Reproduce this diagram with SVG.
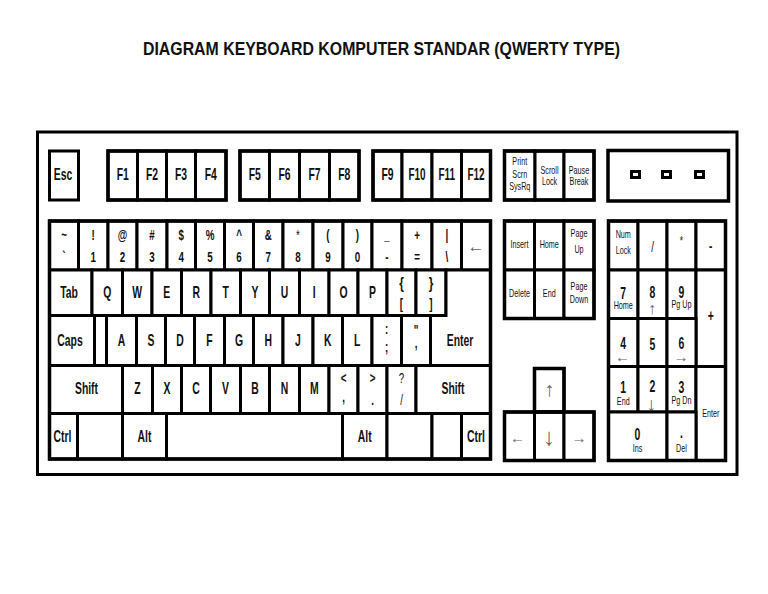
<svg xmlns="http://www.w3.org/2000/svg" width="768" height="594" viewBox="0 0 768 594">
<style>
.key{fill:#fff;stroke:#000;stroke-width:3}
.grp{fill:none;stroke:#000;stroke-width:3.5}
.frame{fill:#fff;stroke:#000;stroke-width:3}
.led{fill:#fff;stroke:#000;stroke-width:3}
text{font-family:"Liberation Sans",Arial,sans-serif;text-anchor:middle;fill:#111}
.b{font-weight:bold;font-size:16px}
.n{font-weight:bold;font-size:14px}
.s{font-size:10px}
.a{fill:#666;dominant-baseline:central}
.title{font-weight:bold;font-size:18px}
</style>
<rect width="768" height="594" fill="#fff"/>
<text class="title" x="381.5" y="55" textLength="477" lengthAdjust="spacingAndGlyphs">DIAGRAM KEYBOARD KOMPUTER STANDAR (QWERTY TYPE)</text>
<rect id="frame" class="frame" x="37.5" y="132" width="699.5" height="342.5"/>

<g id="function-row">
<g id="k-esc"><rect class="key" x="49.5" y="151" width="29" height="49"/><text class="b" transform="translate(63,180) scale(.65,1)">Esc</text></g>
<g id="k-f1"><rect class="key" x="108" y="151" width="29.5" height="49"/><text class="b" transform="translate(122.75,180) scale(.65,1)">F1</text></g>
<g id="k-f2"><rect class="key" x="137.5" y="151" width="29" height="49"/><text class="b" transform="translate(152,180) scale(.65,1)">F2</text></g>
<g id="k-f3"><rect class="key" x="166.5" y="151" width="29" height="49"/><text class="b" transform="translate(181,180) scale(.65,1)">F3</text></g>
<g id="k-f4"><rect class="key" x="195.5" y="151" width="30.5" height="49"/><text class="b" transform="translate(210.75,180) scale(.65,1)">F4</text></g>
<rect class="grp" x="108" y="151" width="118" height="49"/>
<g id="k-f5"><rect class="key" x="240" y="151" width="29.5" height="49"/><text class="b" transform="translate(254.75,180) scale(.65,1)">F5</text></g>
<g id="k-f6"><rect class="key" x="269.5" y="151" width="30" height="49"/><text class="b" transform="translate(284.5,180) scale(.65,1)">F6</text></g>
<g id="k-f7"><rect class="key" x="299.5" y="151" width="30" height="49"/><text class="b" transform="translate(314.5,180) scale(.65,1)">F7</text></g>
<g id="k-f8"><rect class="key" x="329.5" y="151" width="29.5" height="49"/><text class="b" transform="translate(344.25,180) scale(.65,1)">F8</text></g>
<rect class="grp" x="240" y="151" width="119" height="49"/>
<g id="k-f9"><rect class="key" x="373" y="151" width="29" height="49"/><text class="b" transform="translate(387.5,180) scale(.65,1)">F9</text></g>
<g id="k-f10"><rect class="key" x="402" y="151" width="30" height="49"/><text class="b" transform="translate(417,180) scale(.62,1)">F10</text></g>
<g id="k-f11"><rect class="key" x="432" y="151" width="29.5" height="49"/><text class="b" transform="translate(446.75,180) scale(.62,1)">F11</text></g>
<g id="k-f12"><rect class="key" x="461.5" y="151" width="29" height="49"/><text class="b" transform="translate(476,180) scale(.62,1)">F12</text></g>
<rect class="grp" x="373" y="151" width="117.5" height="49"/>
<g id="k-print"><rect class="key" x="504.5" y="151" width="30.5" height="49"/><text class="s" transform="translate(519.75,165) scale(.72,1)">Print</text><text class="s" transform="translate(519.75,178) scale(.72,1)">Scrn</text><text class="s" transform="translate(519.75,190) scale(.72,1)">SysRq</text></g>
<g id="k-scroll"><rect class="key" x="535" y="151" width="29" height="49"/><text class="s" transform="translate(549.5,174) scale(.72,1)">Scroll</text><text class="s" transform="translate(549.5,185) scale(.72,1)">Lock</text></g>
<g id="k-pause"><rect class="key" x="564" y="151" width="30" height="49"/><text class="s" transform="translate(579,174) scale(.72,1)">Pause</text><text class="s" transform="translate(579,185) scale(.72,1)">Break</text></g>
<rect class="grp" x="504.5" y="151" width="89.5" height="49"/>
<g id="indicators"><rect class="grp" x="608" y="150.5" width="120.5" height="50.5" style="fill:#fff"/><rect class="led" x="631.5" y="171.5" width="8" height="6"/><rect class="led" x="662.5" y="171.5" width="8" height="6"/><rect class="led" x="695.5" y="171.5" width="8" height="6"/></g>
</g>

<g id="number-row">
<g id="k-tilde"><rect class="key" x="49.5" y="221" width="29" height="49"/><text class="n" transform="translate(64,240) scale(.7,1)">~</text><text class="n" transform="translate(64,262) scale(.7,1)">`</text></g>
<g id="k-1"><rect class="key" x="78.5" y="221" width="29.5" height="49"/><text class="n" transform="translate(93.25,240) scale(.7,1)">!</text><text class="n" transform="translate(93.25,262) scale(.7,1)">1</text></g>
<g id="k-2"><rect class="key" x="108" y="221" width="29" height="49"/><text class="n" transform="translate(122.5,240) scale(.7,1)">@</text><text class="n" transform="translate(122.5,262) scale(.7,1)">2</text></g>
<g id="k-3"><rect class="key" x="137" y="221" width="30" height="49"/><text class="n" transform="translate(152,240) scale(.7,1)">#</text><text class="n" transform="translate(152,262) scale(.7,1)">3</text></g>
<g id="k-4"><rect class="key" x="167" y="221" width="28.5" height="49"/><text class="n" transform="translate(181.25,240) scale(.7,1)">$</text><text class="n" transform="translate(181.25,262) scale(.7,1)">4</text></g>
<g id="k-5"><rect class="key" x="195.5" y="221" width="29" height="49"/><text class="n" transform="translate(210,240) scale(.7,1)">%</text><text class="n" transform="translate(210,262) scale(.7,1)">5</text></g>
<g id="k-6"><rect class="key" x="224.5" y="221" width="29" height="49"/><text class="n" transform="translate(239,240) scale(.7,1)">^</text><text class="n" transform="translate(239,262) scale(.7,1)">6</text></g>
<g id="k-7"><rect class="key" x="253.5" y="221" width="29.5" height="49"/><text class="n" transform="translate(268.25,240) scale(.7,1)">&amp;</text><text class="n" transform="translate(268.25,262) scale(.7,1)">7</text></g>
<g id="k-8"><rect class="key" x="283" y="221" width="30" height="49"/><text class="n" transform="translate(298,240) scale(.7,1)" style="font-weight:normal">*</text><text class="n" transform="translate(298,262) scale(.7,1)">8</text></g>
<g id="k-9"><rect class="key" x="313" y="221" width="30" height="49"/><text class="n" transform="translate(328,240) scale(.7,1)">(</text><text class="n" transform="translate(328,262) scale(.7,1)">9</text></g>
<g id="k-0"><rect class="key" x="343" y="221" width="29" height="49"/><text class="n" transform="translate(357.5,240) scale(.7,1)">)</text><text class="n" transform="translate(357.5,262) scale(.7,1)">0</text></g>
<g id="k-minus"><rect class="key" x="372" y="221" width="30" height="49"/><text class="n" transform="translate(387,240) scale(.7,1)">_</text><text class="n" transform="translate(387,262) scale(.7,1)">-</text></g>
<g id="k-equal"><rect class="key" x="402" y="221" width="30" height="49"/><text class="n" transform="translate(417,240) scale(.7,1)">+</text><text class="n" transform="translate(417,262) scale(.7,1)">=</text></g>
<g id="k-backslash"><rect class="key" x="432" y="221" width="29.5" height="49"/><text class="n" transform="translate(446.75,240) scale(.7,1)">|</text><text class="n" transform="translate(446.75,262) scale(.7,1)">\</text></g>
<g id="k-backspace"><rect class="key" x="461.5" y="221" width="29" height="49"/><text class="a" x="476" y="246" style="font-size:17px">←</text></g>
</g>

<g id="tab-row">
<g id="k-tab"><rect class="key" x="49.5" y="270" width="42.5" height="45.5"/><text class="b" transform="translate(69,298) scale(.65,1)">Tab</text></g>
<g id="k-q"><rect class="key" x="92" y="270" width="30.5" height="45.5"/><text class="b" transform="translate(107.25,298) scale(.65,1)">Q</text></g>
<g id="k-w"><rect class="key" x="122.5" y="270" width="29.5" height="45.5"/><text class="b" transform="translate(137.25,298) scale(.65,1)">W</text></g>
<g id="k-e"><rect class="key" x="152" y="270" width="29.5" height="45.5"/><text class="b" transform="translate(166.75,298) scale(.65,1)">E</text></g>
<g id="k-r"><rect class="key" x="181.5" y="270" width="29.5" height="45.5"/><text class="b" transform="translate(196.25,298) scale(.65,1)">R</text></g>
<g id="k-t"><rect class="key" x="211" y="270" width="29.5" height="45.5"/><text class="b" transform="translate(225.75,298) scale(.65,1)">T</text></g>
<g id="k-y"><rect class="key" x="240.5" y="270" width="29" height="45.5"/><text class="b" transform="translate(255,298) scale(.65,1)">Y</text></g>
<g id="k-u"><rect class="key" x="269.5" y="270" width="30" height="45.5"/><text class="b" transform="translate(284.5,298) scale(.65,1)">U</text></g>
<g id="k-i"><rect class="key" x="299.5" y="270" width="29.5" height="45.5"/><text class="b" transform="translate(314.25,298) scale(.65,1)">I</text></g>
<g id="k-o"><rect class="key" x="329" y="270" width="29" height="45.5"/><text class="b" transform="translate(343.5,298) scale(.65,1)">O</text></g>
<g id="k-p"><rect class="key" x="358" y="270" width="29" height="45.5"/><text class="b" transform="translate(372.5,298) scale(.65,1)">P</text></g>
<g id="k-lbracket"><rect class="key" x="387" y="270" width="29" height="45.5"/><text class="n" transform="translate(401.5,288.5) scale(.7,1)" style="font-size:17px">{</text><text class="n" transform="translate(401.5,309) scale(.7,1)">[</text></g>
<g id="k-rbracket"><rect class="key" x="416" y="270" width="30" height="45.5"/><text class="n" transform="translate(431,288.5) scale(.7,1)" style="font-size:17px">}</text><text class="n" transform="translate(431,309) scale(.7,1)">]</text></g>
</g>

<g id="caps-row">
<g id="k-caps"><rect class="key" x="49.5" y="315.5" width="45" height="50"/><text class="b" transform="translate(70,346) scale(.65,1)">Caps</text></g>
<g id="k-blank-caps"><rect class="key" x="94.5" y="315.5" width="12" height="50"/></g>
<g id="k-a"><rect class="key" x="106.5" y="315.5" width="30" height="50"/><text class="b" transform="translate(121.5,346) scale(.65,1)">A</text></g>
<g id="k-s"><rect class="key" x="136.5" y="315.5" width="29" height="50"/><text class="b" transform="translate(151,346) scale(.65,1)">S</text></g>
<g id="k-d"><rect class="key" x="165.5" y="315.5" width="29" height="50"/><text class="b" transform="translate(180,346) scale(.65,1)">D</text></g>
<g id="k-f"><rect class="key" x="194.5" y="315.5" width="30" height="50"/><text class="b" transform="translate(209.5,346) scale(.65,1)">F</text></g>
<g id="k-g"><rect class="key" x="224.5" y="315.5" width="29" height="50"/><text class="b" transform="translate(239,346) scale(.65,1)">G</text></g>
<g id="k-h"><rect class="key" x="253.5" y="315.5" width="29.5" height="50"/><text class="b" transform="translate(268.25,346) scale(.65,1)">H</text></g>
<g id="k-j"><rect class="key" x="283" y="315.5" width="30" height="50"/><text class="b" transform="translate(298,346) scale(.65,1)">J</text></g>
<g id="k-k"><rect class="key" x="313" y="315.5" width="29.5" height="50"/><text class="b" transform="translate(327.75,346) scale(.65,1)">K</text></g>
<g id="k-l"><rect class="key" x="342.5" y="315.5" width="29.5" height="50"/><text class="b" transform="translate(357.25,346) scale(.65,1)">L</text></g>
<g id="k-semicolon"><rect class="key" x="372" y="315.5" width="29.5" height="50"/><text class="n" transform="translate(386.75,334) scale(.7,1)">:</text><text class="n" transform="translate(386.75,352) scale(.7,1)">;</text></g>
<g id="k-quote"><rect class="key" x="401.5" y="315.5" width="29" height="50"/><text class="n" transform="translate(416,335) scale(.7,1)">"</text><text class="n" transform="translate(416,348) scale(.7,1)">,</text></g>
<g id="k-enter"><path class="key" d="M446,270 H490.5 V365.5 H430.5 V315.5 H446 Z"/><text class="b" transform="translate(460,346) scale(.65,1)">Enter</text></g>
</g>

<g id="shift-row">
<g id="k-lshift"><rect class="key" x="49.5" y="365.5" width="73" height="48"/><text class="b" transform="translate(86.5,394) scale(.65,1)">Shift</text></g>
<g id="k-z"><rect class="key" x="122.5" y="365.5" width="30" height="48"/><text class="b" transform="translate(137.5,394) scale(.65,1)">Z</text></g>
<g id="k-x"><rect class="key" x="152.5" y="365.5" width="29" height="48"/><text class="b" transform="translate(167,394) scale(.65,1)">X</text></g>
<g id="k-c"><rect class="key" x="181.5" y="365.5" width="29" height="48"/><text class="b" transform="translate(196,394) scale(.65,1)">C</text></g>
<g id="k-v"><rect class="key" x="210.5" y="365.5" width="30" height="48"/><text class="b" transform="translate(225.5,394) scale(.65,1)">V</text></g>
<g id="k-b"><rect class="key" x="240.5" y="365.5" width="29" height="48"/><text class="b" transform="translate(255,394) scale(.65,1)">B</text></g>
<g id="k-n"><rect class="key" x="269.5" y="365.5" width="30" height="48"/><text class="b" transform="translate(284.5,394) scale(.65,1)">N</text></g>
<g id="k-m"><rect class="key" x="299.5" y="365.5" width="29.5" height="48"/><text class="b" transform="translate(314.25,394) scale(.65,1)">M</text></g>
<g id="k-comma"><rect class="key" x="329" y="365.5" width="29" height="48"/><text class="n" transform="translate(343.5,383) scale(.7,1)">&lt;</text><text class="n" transform="translate(343.5,402) scale(.7,1)">,</text></g>
<g id="k-period"><rect class="key" x="358" y="365.5" width="29" height="48"/><text class="n" transform="translate(372.5,383) scale(.7,1)">&gt;</text><text class="n" transform="translate(372.5,405) scale(.7,1)">.</text></g>
<g id="k-slash"><rect class="key" x="387" y="365.5" width="29" height="48"/><text class="n" transform="translate(401.5,383) scale(.7,1)" style="font-weight:normal">?</text><text class="n" transform="translate(401.5,405) scale(.7,1)" style="font-weight:normal">/</text></g>
<g id="k-rshift"><rect class="key" x="416" y="365.5" width="74.5" height="48"/><text class="b" transform="translate(453,394) scale(.65,1)">Shift</text></g>
</g>

<g id="ctrl-row">
<g id="k-lctrl"><rect class="key" x="49.5" y="413.5" width="28" height="45.5"/><text class="b" transform="translate(62.5,442) scale(.65,1)">Ctrl</text></g>
<g id="k-lwin"><rect class="key" x="77.5" y="413.5" width="45" height="45.5"/></g>
<g id="k-lalt"><rect class="key" x="122.5" y="413.5" width="44" height="45.5"/><text class="b" transform="translate(144.5,442) scale(.65,1)">Alt</text></g>
<g id="k-space"><rect class="key" x="166.5" y="413.5" width="176" height="45.5"/></g>
<g id="k-ralt"><rect class="key" x="342.5" y="413.5" width="44.5" height="45.5"/><text class="b" transform="translate(364.75,442) scale(.65,1)">Alt</text></g>
<g id="k-rwin"><rect class="key" x="387" y="413.5" width="45" height="45.5"/></g>
<g id="k-menu"><rect class="key" x="432" y="413.5" width="29.5" height="45.5"/></g>
<g id="k-rctrl"><rect class="key" x="461.5" y="413.5" width="29" height="45.5"/><text class="b" transform="translate(476,442) scale(.65,1)">Ctrl</text></g>
</g>
<rect class="grp" x="49.5" y="221" width="441" height="238"/>

<g id="nav-cluster">
<g id="k-insert"><rect class="key" x="504.5" y="221" width="30" height="49"/><text class="s" transform="translate(519.5,248) scale(.72,1)">Insert</text></g>
<g id="k-home"><rect class="key" x="534.5" y="221" width="29.5" height="49"/><text class="s" transform="translate(549.25,248) scale(.72,1)">Home</text></g>
<g id="k-pgup"><rect class="key" x="564" y="221" width="30" height="49"/><text class="s" transform="translate(579,237) scale(.72,1)">Page</text><text class="s" transform="translate(579,253) scale(.72,1)">Up</text></g>
<g id="k-delete"><rect class="key" x="504.5" y="270" width="30" height="48.5"/><text class="s" transform="translate(519.5,297) scale(.72,1)">Delete</text></g>
<g id="k-end"><rect class="key" x="534.5" y="270" width="29.5" height="48.5"/><text class="s" transform="translate(549.25,297) scale(.72,1)">End</text></g>
<g id="k-pgdn"><rect class="key" x="564" y="270" width="30" height="48.5"/><text class="s" transform="translate(579,290) scale(.72,1)">Page</text><text class="s" transform="translate(579,303) scale(.72,1)">Down</text></g>
<rect class="grp" x="504.5" y="221" width="89.5" height="97.5"/>
</g>

<g id="arrow-cluster">
<g id="k-up"><rect class="key" x="534.5" y="368.5" width="29.5" height="43.5"/><text class="a" x="549.25" y="389" style="font-size:20px">↑</text></g>
<g id="k-left"><rect class="key" x="504.5" y="412" width="30" height="48.5"/><text class="a" x="517.5" y="437" style="font-size:15px">←</text></g>
<g id="k-down"><rect class="key" x="534.5" y="412" width="29.5" height="48.5"/><text class="a" x="549.25" y="436" style="font-size:24px">↓</text></g>
<g id="k-right"><rect class="key" x="564" y="412" width="30" height="48.5"/><text class="a" x="579" y="437" style="font-size:15px">→</text></g>
<rect class="grp" x="534.5" y="368.5" width="29.5" height="43.5"/>
<rect class="grp" x="504.5" y="412" width="89.5" height="48.5"/>
</g>

<g id="numpad">
<g id="k-numlock"><rect class="key" x="608.5" y="221" width="29.5" height="49"/><text class="s" transform="translate(623.25,238) scale(.72,1)">Num</text><text class="s" transform="translate(623.25,254) scale(.72,1)">Lock</text></g>
<g id="k-kp-div"><rect class="key" x="638" y="221" width="29" height="49"/><text class="n" transform="translate(652.5,252) scale(.7,1)" style="font-weight:normal">/</text></g>
<g id="k-kp-mul"><rect class="key" x="667" y="221" width="29" height="49"/><text class="n" transform="translate(681.5,245) scale(.7,1)" style="font-weight:normal;font-size:12px">*</text></g>
<g id="k-kp-sub"><rect class="key" x="696" y="221" width="29.5" height="49"/><text class="n" transform="translate(710.75,251) scale(.7,1)">-</text></g>
<g id="k-kp7"><rect class="key" x="608.5" y="270" width="29.5" height="48.5"/><text class="b" transform="translate(623.25,299) scale(.65,1)">7</text><text class="s" transform="translate(623.25,309) scale(.72,1)">Home</text></g>
<g id="k-kp8"><rect class="key" x="638" y="270" width="29" height="48.5"/><text class="b" transform="translate(652.5,298) scale(.65,1)">8</text><text class="a" x="652" y="308" style="font-size:16px">↑</text></g>
<g id="k-kp9"><rect class="key" x="667" y="270" width="29" height="48.5"/><text class="b" transform="translate(681.5,298) scale(.65,1)">9</text><text class="s" transform="translate(681.5,308) scale(.72,1)">Pg Up</text></g>
<g id="k-kp-add"><rect class="key" x="696" y="270" width="29.5" height="96.5"/><text class="b" transform="translate(710.75,321) scale(.65,1)">+</text></g>
<g id="k-kp4"><rect class="key" x="608.5" y="318.5" width="29.5" height="48"/><text class="b" transform="translate(623.25,349) scale(.65,1)">4</text><text class="a" x="622.5" y="356.5" style="font-size:15px">←</text></g>
<g id="k-kp5"><rect class="key" x="638" y="318.5" width="29" height="48"/><text class="b" transform="translate(652.5,350) scale(.65,1)">5</text></g>
<g id="k-kp6"><rect class="key" x="667" y="318.5" width="29" height="48"/><text class="b" transform="translate(681.5,349) scale(.65,1)">6</text><text class="a" x="681" y="356.5" style="font-size:15px">→</text></g>
<g id="k-kp1"><rect class="key" x="608.5" y="366.5" width="29.5" height="45.5"/><text class="b" transform="translate(623.25,393) scale(.65,1)">1</text><text class="s" transform="translate(623.25,405) scale(.72,1)">End</text></g>
<g id="k-kp2"><rect class="key" x="638" y="366.5" width="29" height="45.5"/><text class="b" transform="translate(652.5,392) scale(.65,1)">2</text><text class="a" x="651.5" y="404" style="font-size:19px">↓</text></g>
<g id="k-kp3"><rect class="key" x="667" y="366.5" width="29" height="45.5"/><text class="b" transform="translate(681.5,393) scale(.65,1)">3</text><text class="s" transform="translate(681.5,404) scale(.72,1)">Pg Dn</text></g>
<g id="k-kp-enter"><rect class="key" x="696" y="366.5" width="29.5" height="94"/><text class="s" transform="translate(710.75,417) scale(.72,1)">Enter</text></g>
<g id="k-kp0"><rect class="key" x="608.5" y="412" width="58.5" height="48.5"/><text class="b" transform="translate(637.5,440) scale(.65,1)">0</text><text class="s" transform="translate(637.5,452) scale(.72,1)">Ins</text></g>
<g id="k-kp-dec"><rect class="key" x="667" y="412" width="29" height="48.5"/><text class="b" transform="translate(681.5,438) scale(.65,1)">.</text><text class="s" transform="translate(681.5,452) scale(.72,1)">Del</text></g>
<rect class="grp" x="608.5" y="221" width="117" height="239.5"/>
</g>
<g id="connectors"/>
</svg>
